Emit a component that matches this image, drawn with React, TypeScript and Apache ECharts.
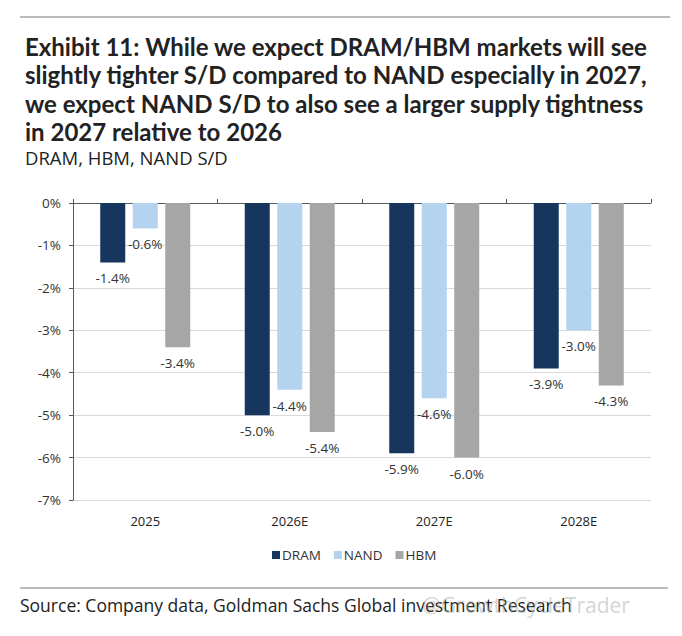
import React, { useEffect, useRef } from "react";
import * as echarts from "echarts";

const categories = ["2025", "2026E", "2027E", "2028E"];
const dram = [-1.4, -5.0, -5.9, -3.9];
const nand = [-0.6, -4.4, -4.6, -3.0];
const hbm = [-3.4, -5.4, -6.0, -4.3];
const titleText =
  "Exhibit 11: While we expect DRAM/HBM markets will see\nslightly tighter S/D compared to NAND especially in 2027,\nwe expect NAND S/D to also see a larger supply tightness\nin 2027 relative to 2026";
const subtitleText = "DRAM, HBM, NAND S/D";
const sourceText = "Source: Company data, Goldman Sachs Global investment Research";

const FONT = "'Open Sans', 'Noto Sans', sans-serif";

export default function App() {
  const ref = useRef<HTMLDivElement>(null);
  useEffect(() => {
    if (!ref.current) return;
    const chart = echarts.init(ref.current, null, { renderer: "svg" });
    const label = {
      show: true,
      position: "bottom" as const,
      distance: 9,
      formatter: (p: any) => `${p.value.toFixed(1)}%`,
      color: "#333",
      fontSize: 13.5,
      fontFamily: FONT,
    };
    chart.setOption({
      animation: false,
      backgroundColor: "#fff",
      textStyle: { fontFamily: FONT },
      title: [
        {
          text: titleText,
          left: 20,
          top: 27,
          textStyle: {
            fontFamily: "Lato, sans-serif",
            fontWeight: "bold",
            fontSize: 24,
            lineHeight: 28.5,
            color: "#222",
          },
        },
        {
          text: subtitleText,
          left: 20,
          top: 143,
          textStyle: {
            fontFamily: FONT,
            fontWeight: "normal",
            fontSize: 18.5,
            color: "#222",
          },
        },
      ],
      legend: {
        data: ["DRAM", "NAND", "HBM"],
        left: 267,
        top: 543,
        icon: "rect",
        itemWidth: 8,
        itemHeight: 8,
        itemGap: 13,
        textStyle: { fontSize: 13.5, color: "#333", fontFamily: FONT, padding: [0, 0, 0, -3] },
      },
      grid: { left: 73, right: 31, top: 203, bottom: 136 },
      xAxis: [
        {
          type: "category",
          data: categories,
          position: "bottom",
          axisLine: { show: false, onZero: false },
          axisTick: { show: false },
          axisLabel: { color: "#222", fontSize: 13, margin: 14, fontFamily: FONT },
        },
        {
          type: "category",
          data: categories,
          position: "top",
          axisLine: { show: true, onZero: false, lineStyle: { color: "#595959", width: 1 } },
          axisTick: { show: true, length: 4, lineStyle: { color: "#595959" } },
          axisLabel: { show: false },
        },
      ],
      yAxis: {
        type: "value",
        min: -7,
        max: 0,
        interval: 1,
        axisLine: { show: true, lineStyle: { color: "#595959" } },
        axisTick: { show: true, length: 4, lineStyle: { color: "#595959" } },
        axisLabel: {
          formatter: (v: number) => `${v}%`,
          color: "#333",
          fontSize: 13.5,
          margin: 12,
          fontFamily: FONT,
        },
        splitLine: { show: true, lineStyle: { color: "#d9d9d9", width: 1 } },
      },
      series: [
        { name: "DRAM", type: "bar", data: dram, barWidth: 25, barGap: "30%", itemStyle: { color: "#17365d" }, label },
        { name: "NAND", type: "bar", data: nand, barWidth: 25, barGap: "30%", itemStyle: { color: "#b4d3ee" }, label },
        { name: "HBM", type: "bar", data: hbm, barWidth: 25, barGap: "30%", itemStyle: { color: "#a6a6a6" }, label },
      ],
      graphic: [
        { type: "line", shape: { x1: 20, y1: 17, x2: 670, y2: 17 }, style: { stroke: "#777", lineWidth: 1 } },
        { type: "line", shape: { x1: 20, y1: 588, x2: 668, y2: 588 }, style: { stroke: "#777", lineWidth: 1 } },
        {
          type: "text",
          left: 20,
          top: 596,
          style: { text: sourceText, fontSize: 17.5, fill: "#222", fontFamily: FONT },
        },
        {
          type: "text",
          left: 422,
          top: 594,
          style: {
            text: "@GrowthCycleTrader",
            fontSize: 21,
            fill: "rgba(170,170,170,0.5)",
            fontFamily: FONT,
          },
        },
      ],
    });
    return () => chart.dispose();
  }, []);
  return <div ref={ref} style={{ width: 682, height: 636, position: "absolute", left: 0, top: 0 }} />;
}
